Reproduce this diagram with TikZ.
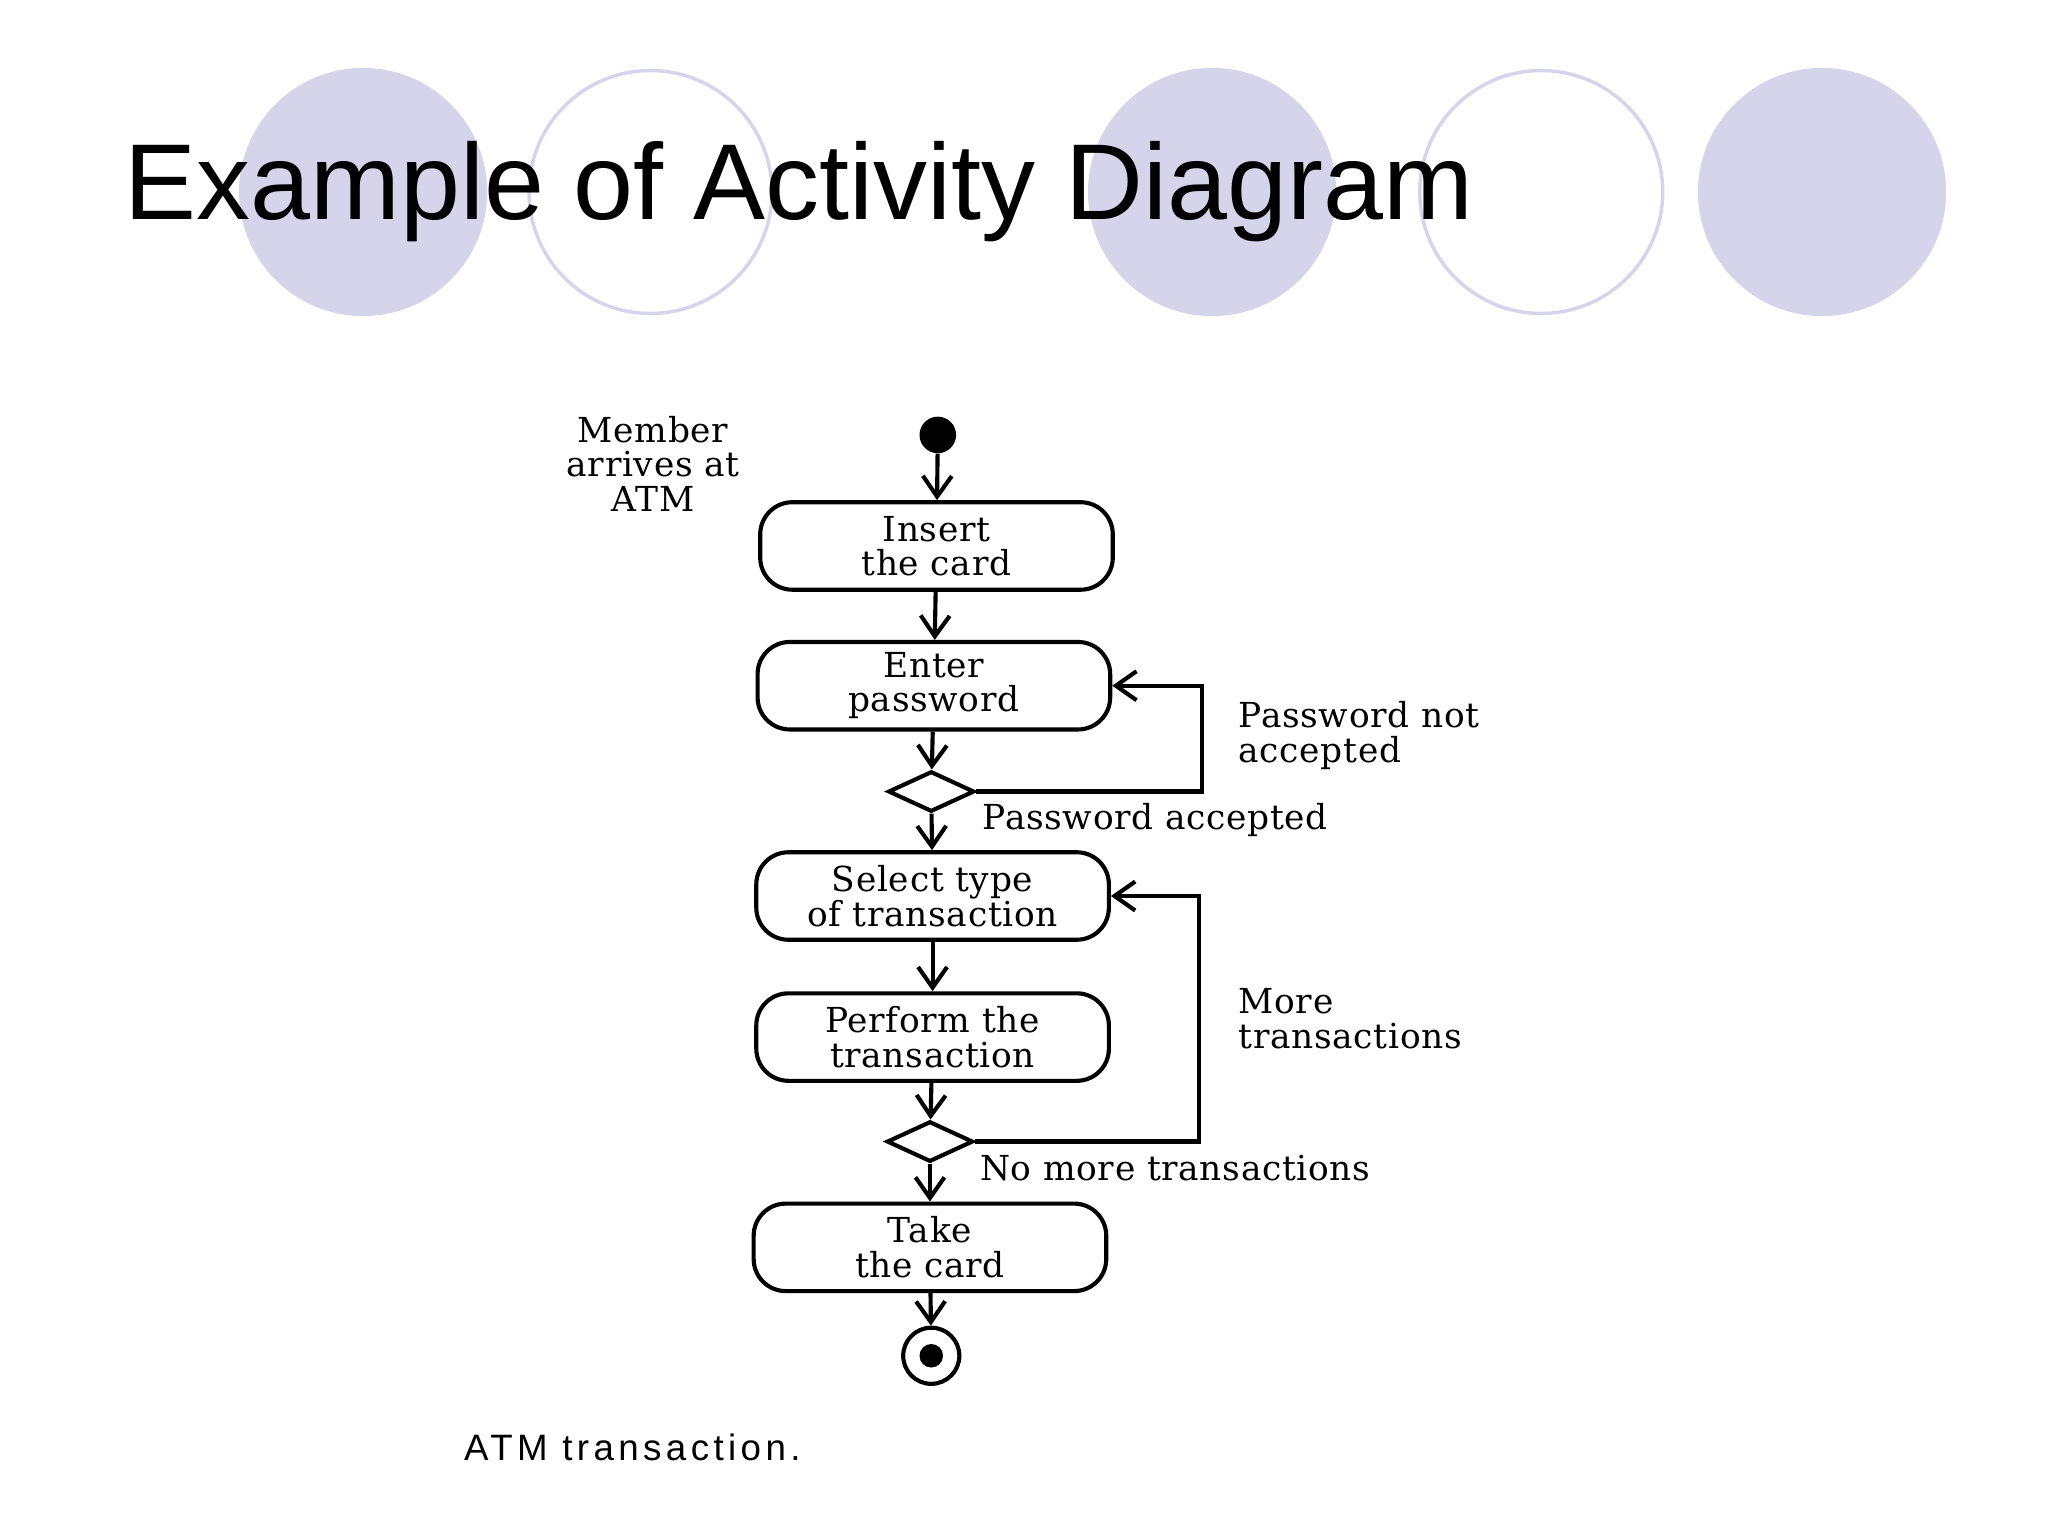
\documentclass[tikz,border=0pt]{standalone}
\usepackage{fontspec}
\newfontfamily\sansfont{Liberation Sans}
\newfontfamily\diafont{DejaVu Serif}[LetterSpace=2]
\newfontfamily\capfont{Liberation Sans}[LetterSpace=12]
\usetikzlibrary{arrows.meta, shapes.geometric}
\definecolor{lav}{RGB}{214,212,234}
\tikzset{
  act/.style={draw, line width=1.8pt, rounded corners=14pt, minimum width=5.4cm, minimum height=1.34cm, align=center, font=\diafont\fontsize{15}{15}\selectfont, inner sep=1pt},
  dec/.style={draw, diamond, line width=1.8pt, minimum width=1.32cm, minimum height=0.62cm, inner sep=0pt, aspect=2.2},
  flow/.style={line width=1.8pt, -{Straight Barb[angle=70:11pt]}},
  lbl/.style={align=left, font=\diafont\fontsize{15}{15}\selectfont, inner sep=0pt},
  deco/.style={line width=1.5pt}
}
\begin{document}
\begin{tikzpicture}[x=0.02cm, y=-0.02cm]
  \useasboundingbox (0,0) rectangle (1568,1176);
  % title decoration
  \fill[lav] (278,147) circle (95);
  \draw[lav, deco] (498,147) circle (93);
  \fill[lav] (928,147) circle (95);
  \draw[lav, deco] (1180,147) circle (93);
  \fill[lav] (1395,147) circle (95);
  \node[anchor=west, font=\sansfont\fontsize{47}{52}\selectfont, inner sep=0pt] (title) at (95,147) {Example of Activity Diagram};

  % diagram
  \node[circle, fill, minimum size=0.56cm, inner sep=0pt] (start) at (718,333) {};
  \node[act] (insert) at (717,418) {Insert\\the card};
  \node[act] (enter) at (715,525) {Enter\\password};
  \node[dec] (d1) at (713,606) {};
  \node[act] (select) at (714,686) {Select type\\of transaction};
  \node[act] (perform) at (714,794) {Perform the\\transaction};
  \node[dec] (d2) at (712,874) {};
  \node[act] (take) at (712,955) {Take\\the card};
  \node[circle, draw, line width=1.8pt, minimum size=0.86cm, inner sep=0pt] (stop) at (713,1038) {};
  \fill (stop) circle (9);

  \coordinate (c1) at (920,606);
  \coordinate (c2) at (920,525);
  \coordinate (c3) at (918,874);
  \coordinate (c4) at (918,686);

  \draw[flow] (start) -- (insert);
  \draw[flow] (insert) -- (enter);
  \draw[flow] (enter) -- (d1);
  \draw[flow] (d1) -- (select);
  \draw[flow] (select) -- (perform);
  \draw[flow] (perform) -- (d2);
  \draw[flow] (d2) -- (take);
  \draw[flow] (take) -- (stop);
  \draw[flow] (d1.east) -- (c1) -- (c2) -- (enter.east);
  \draw[flow] (d2.east) -- (c3) -- (c4) -- (select.east);

  \node[align=center, font=\diafont\fontsize{15}{15}\selectfont] (member) at (500,355) {Member\\arrives at\\ATM};
  \node[lbl, anchor=west] (pna) at (948,563) {Password not\\accepted};
  \node[lbl, anchor=west] (pa) at (752,628) {Password accepted};
  \node[lbl, anchor=west] (more) at (948,780) {More\\transactions};
  \node[lbl, anchor=west] (nomore) at (750,894) {No more transactions};
  \node[anchor=west, font=\capfont\fontsize{16}{16}\selectfont, inner sep=0pt] (cap) at (355,1108) {ATM transaction.};
\end{tikzpicture}
\end{document}
